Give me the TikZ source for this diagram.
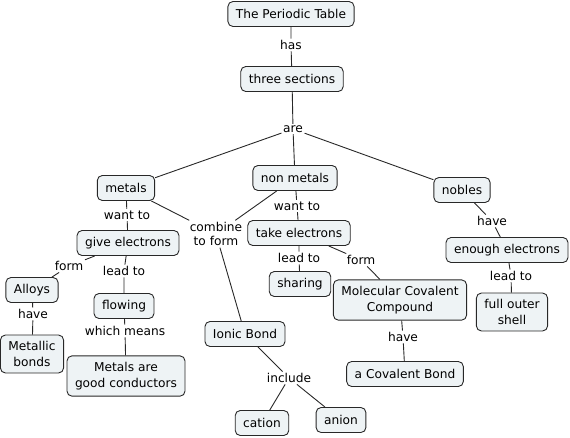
\documentclass[tikz,border=0pt]{standalone}
\usepackage{fontspec}
\setmainfont{DejaVu Sans}
\usepackage{tikz}
\definecolor{boxfill}{RGB}{238,243,245}
\definecolor{boxline}{RGB}{40,40,40}

\begin{document}
\begin{tikzpicture}[x=1pt, y=-1pt,
  concept/.style = {draw=boxline, fill=boxfill, rounded corners=5pt, line width=0.9pt,
    font=\fontsize{12.2}{15.5}\selectfont, align=center, inner xsep=8pt, inner ysep=6.5pt,
    minimum height=25pt},
  phrase/.style = {font=\fontsize{12.2}{14.5}\selectfont, align=center, inner sep=1.5pt},
  link/.style = {draw=boxline, line width=0.9pt}]
\useasboundingbox (0,0) rectangle (570,437);

%% concepts
\node[concept] (table) at (291, 14) {The Periodic Table};
\node[concept] (sections) at (292, 79) {three sections};
\node[concept] (metals) at (126, 188) {metals};
\node[concept] (nonmetals) at (295, 178) {non metals};
\node[concept] (nobles) at (462, 190) {nobles};
\node[concept] (give) at (128, 243) {give electrons};
\node[concept] (take) at (299, 233) {take electrons};
\node[concept] (enough) at (507, 250) {enough electrons};
\node[concept] (alloys) at (32, 290) {Alloys};
\node[concept] (flowing) at (124, 306) {flowing};
\node[concept] (sharing) at (300, 284) {sharing};
\node[concept] (molecular) at (400, 300) {Molecular Covalent\\Compound};
\node[concept] (shell) at (512, 312) {full outer\\shell};
\node[concept] (ionic) at (245, 334) {Ionic Bond};
\node[concept] (metallic) at (32, 354) {Metallic\\bonds};
\node[concept] (conductors) at (126, 376) {Metals are\\good conductors};
\node[concept] (covalent) at (405, 374) {a Covalent Bond};
\node[concept] (cation) at (262, 423) {cation};
\node[concept] (anion) at (341, 420) {anion};

%% linking phrases
\node[phrase] (has) at (291, 45) {has};
\node[phrase] (are) at (293, 129) {are};
\node[phrase] (wantm) at (127, 215) {want to};
\node[phrase] (combine) at (216, 234) {combine\\to form};
\node[phrase] (wantn) at (297, 206) {want to};
\node[phrase] (haven) at (492, 221) {have};
\node[phrase] (forma) at (69, 266) {form};
\node[phrase] (leadf) at (124, 271) {lead to};
\node[phrase] (leads) at (299, 258) {lead to};
\node[phrase] (formm) at (361, 260) {form};
\node[phrase] (leado) at (511, 276) {lead to};
\node[phrase] (havea) at (33, 314) {have};
\node[phrase] (which) at (125, 331) {which means};
\node[phrase] (havem) at (403, 337) {have};
\node[phrase] (include) at (289, 378) {include};

%%% connectors
\draw[link] (table) -- (has) -- (sections) -- (are);
\draw[link] (are) -- (metals);
\draw[link] (are) -- (nonmetals);
\draw[link] (are) -- (nobles);
\draw[link] (metals) -- (wantm) -- (give);
\draw[link] (metals) -- (combine) -- (ionic);
\draw[link] (nonmetals) -- (combine);
\draw[link] (nonmetals) -- (wantn) -- (take);
\draw[link] (nobles) -- (haven) -- (enough) -- (leado) -- (shell);
\draw[link] (give) -- (forma) -- (alloys) -- (havea) -- (metallic);
\draw[link] (give) -- (leadf) -- (flowing) -- (which) -- (conductors);
\draw[link] (take) -- (leads) -- (sharing);
\draw[link] (take) -- (formm) -- (molecular) -- (havem) -- (covalent);
\draw[link] (ionic) -- (include) -- (cation);
\draw[link] (include) -- (anion);

\end{tikzpicture}
\end{document}
